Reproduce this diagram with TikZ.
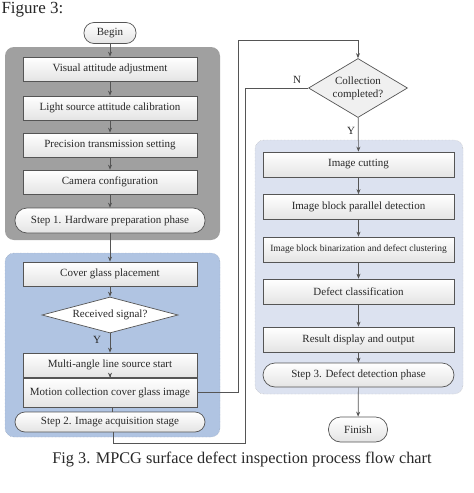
\documentclass[tikz,border=0pt]{standalone}
\usepackage{fontspec}
\setmainfont{Liberation Serif}
\usetikzlibrary{shapes.geometric,arrows.meta}

\definecolor{linegray}{RGB}{85,85,85}
\definecolor{textgray}{RGB}{40,40,40}
\definecolor{boxshade}{RGB}{228,228,228}
\definecolor{panelgray}{RGB}{160,160,160}
\definecolor{panelblue}{RGB}{176,196,226}
\definecolor{panellight}{RGB}{220,226,240}

\begin{document}
\begin{tikzpicture}[x=1pt, y=-1pt,
  box/.style={rectangle, draw=linegray, line width=0.7pt, top color=white,
              bottom color=boxshade, minimum height=24pt, minimum width=#1,
              inner sep=1pt, text=textgray, font=\fontsize{11}{13}\selectfont},
  box/.default=174pt,
  pill/.style={box=#1, rounded corners=11pt},
  pill/.default=190pt,
  term/.style={box=#1, rounded corners=10pt, minimum height=21pt},
  choice/.style={diamond, draw=linegray, line width=0.7pt, fill=#1, inner sep=0pt,
                 text=textgray, font=\fontsize{11}{13}\selectfont, align=center},
  choice/.default=white,
  arr/.style={-{Stealth[length=5pt,width=4pt]}, draw=linegray, line width=0.7pt},
  link/.style={draw=linegray, line width=0.7pt},
  tag/.style={text=textgray, font=\fontsize{11}{13}\selectfont}
]
  \clip (0,0) rectangle (474,493);
  \fill[white] (0,0) rectangle (474,493);

  \node[anchor=base west, text=textgray, font=\fontsize{17}{19}\selectfont] (fig) at (-2,13) {Figure 3:};

  % panels
  \fill[panelgray, rounded corners=9pt] (5,47) rectangle (220,240);
  \draw[panelblue!80!black, densely dotted, fill=panelblue, rounded corners=9pt] (5,253) rectangle (220,437);
  \draw[gray!60, densely dotted, fill=panellight, rounded corners=9pt] (255,140) rectangle (463,394);

  % left column
  \node[term=52pt] (begin) at (110,33) {Begin};
  \node[box] (visual) at (110,69) {Visual attitude adjustment};
  \node[box] (light) at (110,108) {Light source attitude calibration};
  \node[box] (prec) at (110,145) {Precision transmission setting};
  \node[box] (camera) at (110,182) {Camera configuration};
  \node[pill, minimum height=25pt, rounded corners=12pt] (step1) at (110,220.5) {Step 1. Hardware preparation phase};
  \node[box] (cover) at (110,274) {Cover glass placement};
  \node[choice, aspect=3.78, minimum width=136pt, minimum height=36pt] (signal) at (110,315) {Received signal?};
  \node[box] (multi) at (110,365) {Multi-angle line source start};
  \node[box, minimum height=29pt] (motion) at (110,392.5) {Motion collection cover glass image};
  \node[pill, minimum height=20pt, rounded corners=10pt] (step2) at (110,422) {Step 2. Image acquisition stage};

  % right column
  \node[choice=gray!12, aspect=1.68, minimum width=99pt, minimum height=59pt] (done) at (358,88) {Collection\\completed?};
  \node[box=191pt, minimum height=25pt] (cut) at (358.5,164.5) {Image cutting};
  \node[box=191pt, minimum height=25pt] (parallel) at (358.5,207) {Image block parallel detection};
  \node[box=191pt, minimum height=25pt, font=\fontsize{9.5}{11}\selectfont] (binar) at (358.5,249.5) {Image block binarization and defect clustering};
  \node[box=191pt, minimum height=25pt] (classify) at (358.5,291.5) {Defect classification};
  \node[box=191pt, minimum height=25pt] (result) at (358.5,339.5) {Result display and output};
  \node[pill=191pt, minimum height=24pt, rounded corners=12pt] (step3) at (358.5,375) {Step 3. Defect detection phase};
  \node[term=59pt, minimum height=25pt, rounded corners=12pt] (finish) at (358,429.5) {Finish};

  \coordinate (upturn) at (238,40);
  \coordinate (backturn) at (245,443);

  \draw[arr] (begin) -- (visual);
  \draw[arr] (visual) -- (light);
  \draw[arr] (light) -- (prec);
  \draw[arr] (prec) -- (camera);
  \draw[arr] (camera) -- (step1);
  \draw[arr] (step1) -- (cover);
  \draw[arr] (cover) -- (signal);
  \draw[arr] (signal) -- (multi);
  \draw[arr] (multi) -- (motion);
  \draw[link] ([xshift=2pt]motion.south) -- ([xshift=2pt]step2.north);
  \draw[arr] (motion.east) -| (upturn) -| (done.north);
  \draw[link] (done.west) -| (backturn) -| ([xshift=3pt]step2.south);
  \draw[arr] (done) -- (cut);
  \draw[arr] (cut) -- (parallel);
  \draw[arr] (parallel) -- (binar);
  \draw[arr] (binar) -- (classify);
  \draw[arr] (classify) -- (result);
  \draw[arr] (result) -- (step3);
  \draw[arr] (step3) -- (finish);

  % labels
  \node[tag] (yes1) at (97,340) {Y};
  \node[tag] (no) at (297,80) {N};
  \node[tag] (yes2) at (351,131) {Y};
  \node[text=textgray, font=\fontsize{16.3}{19}\selectfont] (caption) at (242,460) {Fig 3. MPCG surface defect inspection process flow chart};
\end{tikzpicture}
\end{document}
